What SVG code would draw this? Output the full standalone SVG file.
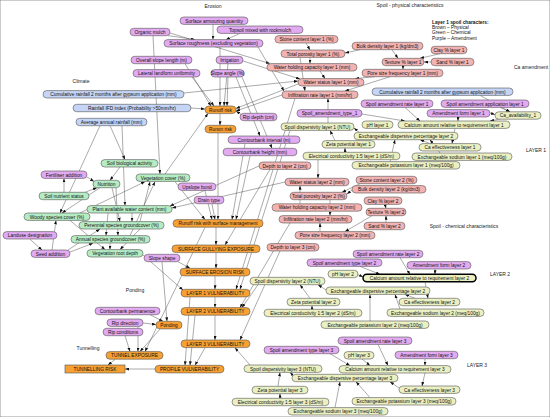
<svg xmlns="http://www.w3.org/2000/svg" width="550" height="417" viewBox="0 0 550 417">
<style>
text{font-family:"Liberation Sans",Arial,sans-serif;font-size:4.8px;fill:#111;text-anchor:middle}
.lab{font-size:5px;fill:#222}
.leg{text-anchor:start;font-size:4.8px}
rect{stroke:#555;stroke-width:0.6}
.p rect{fill:#e2aaf0}
.r rect{fill:#f3b3b3}
.g rect{fill:#eaf0c2}
.m rect{fill:#b6ecc4}
.b rect{fill:#c5d5f5}
.o rect{fill:#f7a033}
#cn line{stroke:#444;stroke-width:0.45;marker-end:url(#ah)}
</style>
<defs>
<marker id="ah" markerUnits="userSpaceOnUse" markerWidth="4" markerHeight="3" refX="4" refY="1.5" orient="auto"><path d="M0,0 L4,1.5 L0,3 z" fill="#111"/></marker>
</defs>
<rect x="0" y="0" width="550" height="417" fill="#fff" stroke="none"/>
<g id="cn">
<line x1="213" y1="24.4" x2="213" y2="39.6"/>
<line x1="240" y1="33.4" x2="226" y2="39.6"/>
<line x1="168" y1="35.6" x2="195" y2="39.6"/>
<line x1="153" y1="35.7" x2="160" y2="174"/>
<line x1="170" y1="33" x2="270" y2="63.6"/>
<line x1="220" y1="47" x2="220" y2="106"/>
<line x1="185" y1="63.7" x2="211" y2="106"/>
<line x1="192" y1="77" x2="214" y2="106"/>
<line x1="228" y1="63.7" x2="224" y2="106"/>
<line x1="228" y1="77" x2="227" y2="106"/>
<line x1="236" y1="77" x2="260" y2="136"/>
<line x1="242" y1="77" x2="272" y2="148.3"/>
<line x1="184" y1="93" x2="298" y2="81"/>
<line x1="191" y1="108" x2="205" y2="109"/>
<line x1="100" y1="125.7" x2="60" y2="213"/>
<line x1="110" y1="125.7" x2="125" y2="159.6"/>
<line x1="122" y1="125.7" x2="125" y2="205.6"/>
<line x1="165" y1="174" x2="208" y2="113.4"/>
<line x1="220" y1="113.6" x2="220" y2="125.3"/>
<line x1="242" y1="115" x2="236" y2="111"/>
<line x1="298" y1="84" x2="236" y2="108.5"/>
<line x1="282" y1="95" x2="236" y2="111"/>
<line x1="320" y1="71" x2="325" y2="78.6"/>
<line x1="310" y1="57.4" x2="310" y2="63.6"/>
<line x1="300" y1="57.4" x2="305" y2="91"/>
<line x1="375" y1="76.7" x2="355" y2="78.6"/>
<line x1="390" y1="76.7" x2="345" y2="91"/>
<line x1="306" y1="43" x2="310" y2="50"/>
<line x1="360" y1="49.7" x2="345" y2="53"/>
<line x1="440" y1="53.7" x2="420" y2="58.3"/>
<line x1="431" y1="62" x2="424" y2="62"/>
<line x1="403" y1="65.7" x2="403" y2="69.3"/>
<line x1="392" y1="49.7" x2="398" y2="58.3"/>
<line x1="243" y1="61" x2="300" y2="79"/>
<line x1="258" y1="47" x2="284" y2="91"/>
<line x1="328" y1="123" x2="328" y2="98.4"/>
<line x1="290" y1="130.4" x2="240" y2="289.3"/>
<line x1="295" y1="98.4" x2="236" y2="289.3"/>
<line x1="259" y1="166" x2="170" y2="206"/>
<line x1="285" y1="182" x2="172" y2="208"/>
<line x1="270" y1="169.4" x2="225" y2="245"/>
<line x1="480" y1="95.4" x2="510" y2="111.8"/>
<line x1="500" y1="107.4" x2="510" y2="111.8"/>
<line x1="490" y1="113" x2="495" y2="114.5"/>
<line x1="405" y1="107.4" x2="420" y2="121"/>
<line x1="500" y1="119" x2="490" y2="121"/>
<line x1="458" y1="117" x2="458" y2="121"/>
<line x1="362" y1="114" x2="405" y2="121"/>
<line x1="455" y1="128.4" x2="452" y2="143.6"/>
<line x1="430" y1="143.6" x2="420" y2="139.7"/>
<line x1="440" y1="153" x2="430" y2="139.7"/>
<line x1="390" y1="161.6" x2="395" y2="139.7"/>
<line x1="360" y1="133" x2="354" y2="128"/>
<line x1="335" y1="140.6" x2="330" y2="130.4"/>
<line x1="345" y1="152.3" x2="345" y2="148"/>
<line x1="318" y1="159.7" x2="318" y2="178.3"/>
<line x1="360" y1="183.7" x2="342" y2="192.3"/>
<line x1="352" y1="190" x2="347" y2="194"/>
<line x1="300" y1="203.8" x2="300" y2="185.7"/>
<line x1="330" y1="199.7" x2="330" y2="215.6"/>
<line x1="320" y1="231.6" x2="320" y2="223"/>
<line x1="385" y1="204.4" x2="386" y2="208.3"/>
<line x1="386" y1="222.3" x2="386" y2="215.7"/>
<line x1="372" y1="215.7" x2="345" y2="231.6"/>
<line x1="290" y1="223" x2="240" y2="307.6"/>
<line x1="258" y1="284.7" x2="242" y2="307.6"/>
<line x1="280" y1="251" x2="240" y2="340"/>
<line x1="310" y1="298.3" x2="300" y2="284.7"/>
<line x1="326" y1="290" x2="318" y2="284.7"/>
<line x1="312" y1="309.3" x2="312" y2="305.7"/>
<line x1="415" y1="298.3" x2="405" y2="294.4"/>
<line x1="400" y1="309" x2="395" y2="294.4"/>
<line x1="370" y1="321" x2="370" y2="294.4"/>
<line x1="425" y1="281.7" x2="428" y2="298.3"/>
<line x1="357" y1="274" x2="363" y2="277"/>
<line x1="360" y1="266.4" x2="380" y2="274.3"/>
<line x1="400" y1="257.7" x2="410" y2="274.3"/>
<line x1="435" y1="269" x2="435" y2="274.3"/>
<line x1="378" y1="344.4" x2="388" y2="365.6"/>
<line x1="330" y1="353.7" x2="350" y2="365.6"/>
<line x1="362" y1="359" x2="370" y2="365.6"/>
<line x1="425" y1="358.7" x2="425" y2="365.6"/>
<line x1="425" y1="373" x2="422" y2="386"/>
<line x1="399" y1="388" x2="390" y2="381.7"/>
<line x1="370" y1="397.6" x2="356" y2="381.7"/>
<line x1="335" y1="407.6" x2="340" y2="381.7"/>
<line x1="296" y1="378" x2="290" y2="372.4"/>
<line x1="278" y1="386.3" x2="280" y2="372.4"/>
<line x1="280" y1="398.3" x2="280" y2="393.7"/>
<line x1="250" y1="365" x2="235" y2="347.8"/>
<line x1="218" y1="133" x2="218" y2="219.6"/>
<line x1="245" y1="143.7" x2="232" y2="219.6"/>
<line x1="250" y1="156" x2="236" y2="219.6"/>
<line x1="205" y1="190.7" x2="212" y2="219.6"/>
<line x1="212" y1="204" x2="215" y2="219.6"/>
<line x1="175" y1="181.7" x2="205" y2="219.6"/>
<line x1="216" y1="227.2" x2="216" y2="245"/>
<line x1="216" y1="252.6" x2="216" y2="268.3"/>
<line x1="178" y1="261.7" x2="190" y2="268.3"/>
<line x1="215" y1="275.9" x2="215" y2="289.3"/>
<line x1="215" y1="297.1" x2="215" y2="307.6"/>
<line x1="215" y1="315.4" x2="215" y2="340"/>
<line x1="190" y1="297.1" x2="185" y2="365.3"/>
<line x1="195" y1="315.4" x2="190" y2="365.3"/>
<line x1="205" y1="347.8" x2="195" y2="365.3"/>
<line x1="150" y1="314.7" x2="163" y2="321.3"/>
<line x1="143" y1="323" x2="156" y2="324.5"/>
<line x1="162" y1="261.7" x2="167" y2="321.3"/>
<line x1="160" y1="329.1" x2="140" y2="351.6"/>
<line x1="125" y1="335.7" x2="130" y2="351.6"/>
<line x1="138" y1="326.4" x2="138" y2="351.6"/>
<line x1="205" y1="227.4" x2="145" y2="351.6"/>
<line x1="115" y1="359.4" x2="108" y2="365"/>
<line x1="155" y1="369" x2="125" y2="369"/>
<line x1="143" y1="255" x2="183" y2="290"/>
<line x1="64" y1="192.3" x2="64" y2="178.4"/>
<line x1="87" y1="177" x2="94" y2="181.5"/>
<line x1="85" y1="192.3" x2="97" y2="187.7"/>
<line x1="120" y1="167" x2="110" y2="180.3"/>
<line x1="100" y1="187.7" x2="62" y2="213"/>
<line x1="112" y1="187.7" x2="120" y2="221.6"/>
<line x1="116" y1="187.7" x2="118" y2="235.6"/>
<line x1="132" y1="213" x2="132" y2="221.6"/>
<line x1="108" y1="213" x2="106" y2="235.6"/>
<line x1="80" y1="213" x2="145" y2="181.7"/>
<line x1="140" y1="221.6" x2="150" y2="181.7"/>
<line x1="130" y1="235.6" x2="155" y2="181.7"/>
<line x1="30" y1="239.3" x2="42" y2="250"/>
<line x1="52" y1="250" x2="56" y2="220.4"/>
<line x1="70" y1="252" x2="93" y2="243.3"/>
<line x1="68" y1="250" x2="100" y2="229"/>
<line x1="110" y1="243.3" x2="110" y2="249.6"/>
<line x1="140" y1="229" x2="120" y2="249.6"/>
<line x1="70" y1="220.4" x2="105" y2="249.6"/>
</g>
<g id="labels">
<text class="lab" x="213" y="8">Erosion</text>
<text class="lab" x="410" y="7">Spoil - physical characteristics</text>
<text class="leg" x="432" y="23.7" font-weight="bold">Layer 1 spoil characters:</text>
<text class="leg" x="432" y="29">Brown – Physical</text>
<text class="leg" x="432" y="34.4">Green – Chemical</text>
<text class="leg" x="432" y="39.7">Purple – Amendment</text>
<text class="lab" x="531" y="68.7">Ca amendment</text>
<text class="lab" x="81" y="82.7">Climate</text>
<text class="lab" x="536" y="151.5">LAYER 1</text>
<text class="lab" x="464" y="227.5">Spoil - chemical characteristics</text>
<text class="lab" x="500" y="276">LAYER 2</text>
<text class="lab" x="135" y="291.7">Ponding</text>
<text class="lab" x="88" y="349.7">Tunnelling</text>
<text class="lab" x="477" y="366.5">LAYER 3</text>
</g>
<g id="n_armour" class="p"><rect x="180" y="17" width="68" height="7.4" rx="3.7"/><text x="214" y="22.5">Surface armouring quantity</text></g>
<g id="n_topsoil" class="p"><rect x="217" y="26" width="86" height="7.4" rx="3.7"/><text x="260" y="31.5">Topsoil mixed with rockmulch</text></g>
<g id="n_mulch" class="p"><rect x="130" y="28.3" width="40" height="7.4" rx="3.7"/><text x="150" y="33.8">Organic mulch</text></g>
<g id="n_rough" class="p"><rect x="164" y="39.6" width="99" height="7.4" rx="3.7"/><text x="213.5" y="45.1">Surface roughness (excluding vegetation)</text></g>
<g id="n_slopelen" class="p"><rect x="131" y="56.3" width="61" height="7.4" rx="3.7"/><text x="161.5" y="61.8">Overall slope length (m)</text></g>
<g id="n_irrig" class="p"><rect x="216" y="56.3" width="27" height="7.4" rx="3.7"/><text x="229.5" y="61.8">Irrigation</text></g>
<g id="n_lateral" class="p"><rect x="133" y="69.6" width="67" height="7.4" rx="3.7"/><text x="166.5" y="75.1">Lateral landform uniformity</text></g>
<g id="n_slope" class="p"><rect x="211" y="69.6" width="33" height="7.4" rx="3.7"/><text x="227.5" y="75.1">Slope angle (%)</text></g>
<g id="n_ripdepth" class="p"><rect x="240" y="113.3" width="37" height="7.4" rx="3.7"/><text x="258.5" y="118.8">Rip depth (cm)</text></g>
<g id="n_cbint" class="p"><rect x="228" y="136" width="72" height="7.4" rx="3.7"/><text x="264" y="141.5">Contourbank interval (m)</text></g>
<g id="n_cbheight" class="p"><rect x="223" y="148.3" width="74" height="7.4" rx="3.7"/><text x="260" y="153.8">Contourbank height (mm)</text></g>
<g id="n_upslope" class="p"><rect x="178" y="183" width="38" height="7.4" rx="3.7"/><text x="197" y="188.5">Upslope bund</text></g>
<g id="n_drain" class="p"><rect x="194" y="196.3" width="30" height="7.4" rx="3.7"/><text x="209" y="201.8">Drain type</text></g>
<g id="n_fert" class="p"><rect x="41" y="171" width="46" height="7.4" rx="3.7"/><text x="64" y="176.5">Fertiliser addition</text></g>
<g id="n_landuse" class="p"><rect x="3" y="231.6" width="54" height="7.4" rx="3.7"/><text x="30" y="237.1">Landuse designation</text></g>
<g id="n_seed" class="p"><rect x="31" y="250" width="39" height="7.4" rx="3.7"/><text x="50.5" y="255.5">Seed addition</text></g>
<g id="n_slopeshape" class="p"><rect x="144" y="254.3" width="36" height="7.4" rx="3.7"/><text x="162" y="259.8">Slope shape</text></g>
<g id="n_cbperm" class="p"><rect x="95" y="307.3" width="65" height="7.4" rx="3.7"/><text x="127.5" y="312.8">Contourbank permanence</text></g>
<g id="n_ripdir" class="p"><rect x="107" y="319" width="36" height="7.4" rx="3.7"/><text x="125" y="324.5">Rip direction</text></g>
<g id="n_ripcond" class="p"><rect x="103" y="328.3" width="40" height="7.4" rx="3.7"/><text x="123" y="333.8">Rip conditions</text></g>
<g id="n_amrate1" class="p"><rect x="361" y="100" width="72" height="7.4" rx="3.7"/><text x="397" y="105.5">Spoil amendment rate layer 1</text></g>
<g id="n_amapp1" class="p"><rect x="441" y="100" width="88" height="7.4" rx="3.7"/><text x="485" y="105.5">Spoil amendment application layer 1</text></g>
<g id="n_amtype1" class="p"><rect x="297" y="109.6" width="65" height="7.4" rx="3.7"/><text x="329.5" y="115.1">Spoil_amendment_type_1</text></g>
<g id="n_amform1" class="p"><rect x="427" y="109.6" width="63" height="7.4" rx="3.7"/><text x="458.5" y="115.1">Amendment form layer 1</text></g>
<g id="n_amrate2" class="p"><rect x="353" y="250.3" width="70" height="7.4" rx="3.7"/><text x="388" y="255.8">Spoil amendment rate layer 2</text></g>
<g id="n_amtype2" class="p"><rect x="307" y="259" width="75" height="7.4" rx="3.7"/><text x="344.5" y="264.5">Spoil amendment type layer 2</text></g>
<g id="n_amform2" class="p"><rect x="407" y="261.6" width="64" height="7.4" rx="3.7"/><text x="439" y="267.1">Amendment form layer 2</text></g>
<g id="n_amrate3" class="p"><rect x="338" y="337" width="74" height="7.4" rx="3.7"/><text x="375" y="342.5">Spoil amendment rate layer 3</text></g>
<g id="n_amtype3" class="p"><rect x="264" y="346.3" width="75" height="7.4" rx="3.7"/><text x="301.5" y="351.8">Spoil amendment type layer 3</text></g>
<g id="n_amform3" class="p"><rect x="395" y="351.3" width="63" height="7.4" rx="3.7"/><text x="426.5" y="356.8">Amendment form layer 3</text></g>
<g id="n_stone1" class="r"><rect x="275" y="35.6" width="63" height="7.4" rx="3.7"/><text x="306.5" y="41.1">Stone content layer 1 (%)</text></g>
<g id="n_bulk1" class="r"><rect x="352" y="42.3" width="71" height="7.4" rx="3.7"/><text x="387.5" y="47.8">Bulk density layer 1 (kg/dm3)</text></g>
<g id="n_por1" class="r"><rect x="281" y="50" width="64" height="7.4" rx="3.7"/><text x="313" y="55.5">Total porosity layer 1 (%)</text></g>
<g id="n_clay1" class="r"><rect x="431" y="46.3" width="36" height="7.4" rx="3.7"/><text x="449" y="51.8">Clay % layer 1</text></g>
<g id="n_tex1" class="r"><rect x="382" y="58.3" width="42" height="7.4" rx="3.7"/><text x="403" y="63.8">Texture % layer 1</text></g>
<g id="n_sand1" class="r"><rect x="431" y="58.3" width="43" height="7.4" rx="3.7"/><text x="452.5" y="63.8">Sand % layer 1</text></g>
<g id="n_whc1" class="r"><rect x="267" y="63.6" width="90" height="7.4" rx="3.7"/><text x="312" y="69.1">Water holding capacity layer 1 (mm)</text></g>
<g id="n_pore1" class="r"><rect x="362" y="69.3" width="81" height="7.4" rx="3.7"/><text x="402.5" y="74.8">Pore size frequency layer 1 (mm)</text></g>
<g id="n_ws1" class="r"><rect x="298" y="78.6" width="66" height="7.4" rx="3.7"/><text x="331" y="84.1">Water status layer 1 (mm)</text></g>
<g id="n_inf1" class="r"><rect x="282" y="91" width="76" height="7.4" rx="3.7"/><text x="320" y="96.5">Infiltration rate layer 1 (mm/hr)</text></g>
<g id="n_depth2" class="r"><rect x="259" y="162" width="52" height="7.4" rx="3.7"/><text x="285" y="167.5">Depth to layer 2 (cm)</text></g>
<g id="n_ws2" class="r"><rect x="285" y="178.3" width="64" height="7.4" rx="3.7"/><text x="317" y="183.8">Water status layer 2 (mm)</text></g>
<g id="n_stone2" class="r"><rect x="356" y="176.3" width="61" height="7.4" rx="3.7"/><text x="386.5" y="181.8">Stone content layer 2 (%)</text></g>
<g id="n_bulk2" class="r"><rect x="352" y="185.6" width="74" height="7.4" rx="3.7"/><text x="389" y="191.1">Bulk density layer 2 (kg/dm3)</text></g>
<g id="n_por2" class="r"><rect x="290" y="192.3" width="57" height="7.4" rx="3.7"/><text x="318.5" y="197.8">Total porosity layer 2 (%)</text></g>
<g id="n_clay2" class="r"><rect x="364" y="197" width="38" height="7.4" rx="3.7"/><text x="383" y="202.5">Clay % layer 2</text></g>
<g id="n_whc2" class="r"><rect x="272" y="203.8" width="90" height="7.4" rx="3.7"/><text x="317" y="209.3">Water holding capacity layer 2 (mm)</text></g>
<g id="n_tex2" class="r"><rect x="366" y="208.3" width="40" height="7.4" rx="3.7"/><text x="386" y="213.8">Texture % layer 2</text></g>
<g id="n_inf2" class="r"><rect x="279" y="215.6" width="73" height="7.4" rx="3.7"/><text x="315.5" y="221.1">Infiltration rate layer 2 (mm/hr)</text></g>
<g id="n_sand2" class="r"><rect x="364" y="222.3" width="41" height="7.4" rx="3.7"/><text x="384.5" y="227.8">Sand % layer 2</text></g>
<g id="n_pore2" class="r"><rect x="295" y="231.6" width="80" height="7.4" rx="3.7"/><text x="335" y="237.1">Pore size frequency layer 2 (mm)</text></g>
<g id="n_depth3" class="r"><rect x="267" y="243.6" width="52" height="7.4" rx="3.7"/><text x="293" y="249.1">Depth to layer 3 (cm)</text></g>
<g id="n_cum_l" class="b"><rect x="43" y="90.6" width="141" height="7.4" rx="3.7"/><text x="113.5" y="96.1">Cumulative rainfall 2 months after gypsum application (mm)</text></g>
<g id="n_ifd" class="b"><rect x="73" y="104.3" width="118" height="7.4" rx="3.7"/><text x="132" y="109.8">Rainfall IFD index (Probability &gt;50mm/hr)</text></g>
<g id="n_avg" class="b"><rect x="76" y="118.3" width="71" height="7.4" rx="3.7"/><text x="111.5" y="123.8">Average annual rainfall (mm)</text></g>
<g id="n_cum_r" class="b"><rect x="372" y="88" width="141" height="7.4" rx="3.7"/><text x="442.5" y="93.5">Cumulative rainfall 2 months after gypsum application (mm)</text></g>
<g id="n_bio" class="m"><rect x="101" y="159.6" width="57" height="7.4" rx="3.7"/><text x="129.5" y="165.1">Soil biological activity</text></g>
<g id="n_nutr" class="m"><rect x="93" y="180.3" width="27" height="7.4" rx="3.7"/><text x="106.5" y="185.8">Nutrition</text></g>
<g id="n_vegcov" class="m"><rect x="136" y="174" width="54" height="7.4" rx="3.7"/><text x="163" y="179.5">Vegetation cover (%)</text></g>
<g id="n_soilnut" class="m"><rect x="39" y="192.3" width="50" height="7.4" rx="3.7"/><text x="64" y="197.8">Soil nutrient status</text></g>
<g id="n_paw" class="m"><rect x="87" y="205.6" width="85" height="7.4" rx="3.7"/><text x="129.5" y="211.1">Plant available water content (mm)</text></g>
<g id="n_woody" class="m"><rect x="24" y="213" width="66" height="7.4" rx="3.7"/><text x="57" y="218.5">Woody species cover (%)</text></g>
<g id="n_peren" class="m"><rect x="79" y="221.6" width="85" height="7.4" rx="3.7"/><text x="121.5" y="227.1">Perennial species groundcover (%)</text></g>
<g id="n_annual" class="m"><rect x="71" y="235.6" width="79" height="7.4" rx="3.7"/><text x="110.5" y="241.1">Annual species groundcover (%)</text></g>
<g id="n_root" class="m"><rect x="87" y="249.6" width="56" height="7.4" rx="3.7"/><text x="115" y="255.1">Vegetation root depth</text></g>
<g id="n_caav1" class="g"><rect x="495" y="111.8" width="46" height="7.4" rx="3.7"/><text x="518" y="117.3">Ca_availability_1</text></g>
<g id="n_disp1" class="g"><rect x="281" y="123" width="73" height="7.4" rx="3.7"/><text x="317.5" y="128.5">Spoil dispersivity layer 1 (NTU)</text></g>
<g id="n_ph1" class="g"><rect x="362" y="121" width="31" height="7.4" rx="3.7"/><text x="377.5" y="126.5">pH layer 1</text></g>
<g id="n_caamt1" class="g"><rect x="398" y="121" width="112" height="7.4" rx="3.7"/><text x="454" y="126.5">Calcium amount relative to requirement layer 1</text></g>
<g id="n_edp1" class="g"><rect x="354" y="132.3" width="104" height="7.4" rx="3.7"/><text x="406" y="137.8">Exchangeable dispersive percentage layer 2</text></g>
<g id="n_zeta1" class="g"><rect x="322" y="140.6" width="53" height="7.4" rx="3.7"/><text x="348.5" y="146.1">Zeta potential layer 1</text></g>
<g id="n_caeff1" class="g"><rect x="419" y="143.6" width="62" height="7.4" rx="3.7"/><text x="450" y="149.1">Ca effectiveness layer 1</text></g>
<g id="n_ec1" class="g"><rect x="303" y="152.3" width="97" height="7.4" rx="3.7"/><text x="351.5" y="157.8">Electrical conductivity 1:5 layer 1 (dS/m)</text></g>
<g id="n_na1" class="g"><rect x="412" y="153" width="100" height="7.4" rx="3.7"/><text x="462" y="158.5">Exchangeable sodium layer 1 (meq/100g)</text></g>
<g id="n_k1" class="g"><rect x="352" y="161.6" width="108" height="7.4" rx="3.7"/><text x="406" y="167.1">Exchangeable potassium layer 1 (meq/100g)</text></g>
<g id="n_ph2" class="g"><rect x="328" y="270.3" width="30" height="7.4" rx="3.7"/><text x="343" y="275.8">pH layer 2</text></g>
<g id="n_caamt2" class="g"><rect x="363" y="274.3" width="113" height="7.4" rx="3.7" style="stroke:#000;stroke-width:1.5"/><text x="419.5" y="279.8">Calcium amount relative to requirement layer 2</text></g>
<g id="n_disp2" class="g"><rect x="250" y="277.3" width="75" height="7.4" rx="3.7"/><text x="287.5" y="282.8">Spoil dispersivity layer 2 (NTU)</text></g>
<g id="n_edp2" class="g"><rect x="326" y="287" width="104" height="7.4" rx="3.7"/><text x="378" y="292.5">Exchangeable dispersive percentage layer 2</text></g>
<g id="n_zeta2" class="g"><rect x="287" y="298.3" width="53" height="7.4" rx="3.7"/><text x="313.5" y="303.8">Zeta potential layer 2</text></g>
<g id="n_caeff2" class="g"><rect x="399" y="298.3" width="61" height="7.4" rx="3.7"/><text x="429.5" y="303.8">Ca effectiveness layer 2</text></g>
<g id="n_na2" class="g"><rect x="387" y="309" width="97" height="7.4" rx="3.7"/><text x="435.5" y="314.5">Exchangeable sodium layer 2 (meq/100g)</text></g>
<g id="n_ec2" class="g"><rect x="264" y="309.3" width="98" height="7.4" rx="3.7"/><text x="313" y="314.8">Electrical conductivity 1:5 layer 2 (dS/m)</text></g>
<g id="n_k2" class="g"><rect x="321" y="321" width="108" height="7.4" rx="3.7"/><text x="375" y="326.5">Exchangeable potassium layer 2 (meq/100g)</text></g>
<g id="n_ph3" class="g"><rect x="344" y="351.6" width="30" height="7.4" rx="3.7"/><text x="359" y="357.1">pH layer 3</text></g>
<g id="n_disp3" class="g"><rect x="244" y="365" width="78" height="7.4" rx="3.7"/><text x="283" y="370.5">Spoil dispersivity layer 3 (NTU)</text></g>
<g id="n_caamt3" class="g"><rect x="339" y="365.6" width="112" height="7.4" rx="3.7"/><text x="395" y="371.1">Calcium amount relative to requirement layer 3</text></g>
<g id="n_edp3" class="g"><rect x="292" y="374.3" width="106" height="7.4" rx="3.7"/><text x="345" y="379.8">Exchangeable dispersive percentage layer 3</text></g>
<g id="n_zeta3" class="g"><rect x="252" y="386.3" width="56" height="7.4" rx="3.7"/><text x="280" y="391.8">Zeta potential layer 3</text></g>
<g id="n_caeff3" class="g"><rect x="399" y="386" width="61" height="7.4" rx="3.7"/><text x="429.5" y="391.5">Ca effectiveness layer 3</text></g>
<g id="n_ec3" class="g"><rect x="232" y="398.3" width="97" height="7.4" rx="3.7"/><text x="280.5" y="403.8">Electrical conductivity 1:5 layer 3 (dS/m)</text></g>
<g id="n_k3" class="g"><rect x="352" y="397.6" width="104" height="7.4" rx="3.7"/><text x="404" y="403.1">Exchangeable potassium layer 3 (meq/100g)</text></g>
<g id="n_na3" class="g"><rect x="288" y="407.6" width="100" height="7.4" rx="3.7"/><text x="338" y="413.1">Exchangeable sodium layer 3 (meq/100g)</text></g>
<g id="n_runoff" class="o"><rect x="205" y="106" width="31" height="7.6" rx="3.8"/><text x="220.5" y="111.5">Runoff risk</text></g>
<g id="n_runon" class="o"><rect x="205" y="125.3" width="31" height="7.6" rx="3.8"/><text x="220.5" y="130.8">Runon risk</text></g>
<g id="n_rosm" class="o"><rect x="173" y="219.6" width="90" height="7.6" rx="3.8"/><text x="218" y="225.1">Runoff risk with surface management</text></g>
<g id="n_sge" class="o"><rect x="172" y="245" width="88" height="7.6" rx="3.8"/><text x="216" y="250.6">SURFACE GULLYING EXPOSURE</text></g>
<g id="n_ser" class="o"><rect x="180" y="268.3" width="70" height="7.6" rx="3.8"/><text x="215" y="273.9">SURFACE EROSION RISK</text></g>
<g id="n_l1v" class="o"><rect x="181" y="289.3" width="69" height="7.6" rx="3.8"/><text x="215.5" y="294.9">LAYER 1 VULNERABILITY</text></g>
<g id="n_l2v" class="o"><rect x="181" y="307.6" width="69" height="7.6" rx="3.8"/><text x="215.5" y="313.2">LAYER 2 VULNERABILITY</text></g>
<g id="n_pond" class="o"><rect x="156" y="321.3" width="26" height="7.6" rx="3.8"/><text x="169" y="326.9">Ponding</text></g>
<g id="n_l3v" class="o"><rect x="181" y="340" width="69" height="7.6" rx="3.8"/><text x="215.5" y="345.6">LAYER 3 VULNERABILITY</text></g>
<g id="n_tunexp" class="o"><rect x="106" y="351.6" width="57" height="7.6" rx="3.8"/><text x="134.5" y="357.2">TUNNEL EXPOSURE</text></g>
<g id="n_tunrisk" class="o"><rect x="65" y="365" width="60" height="8" rx="0"/><text x="95" y="370.8">TUNNELLING RISK</text></g>
<g id="n_profv" class="o"><rect x="155" y="365.3" width="69" height="7.6" rx="3.8"/><text x="189.5" y="370.9">PROFILE VULNERABILITY</text></g>
</svg>
